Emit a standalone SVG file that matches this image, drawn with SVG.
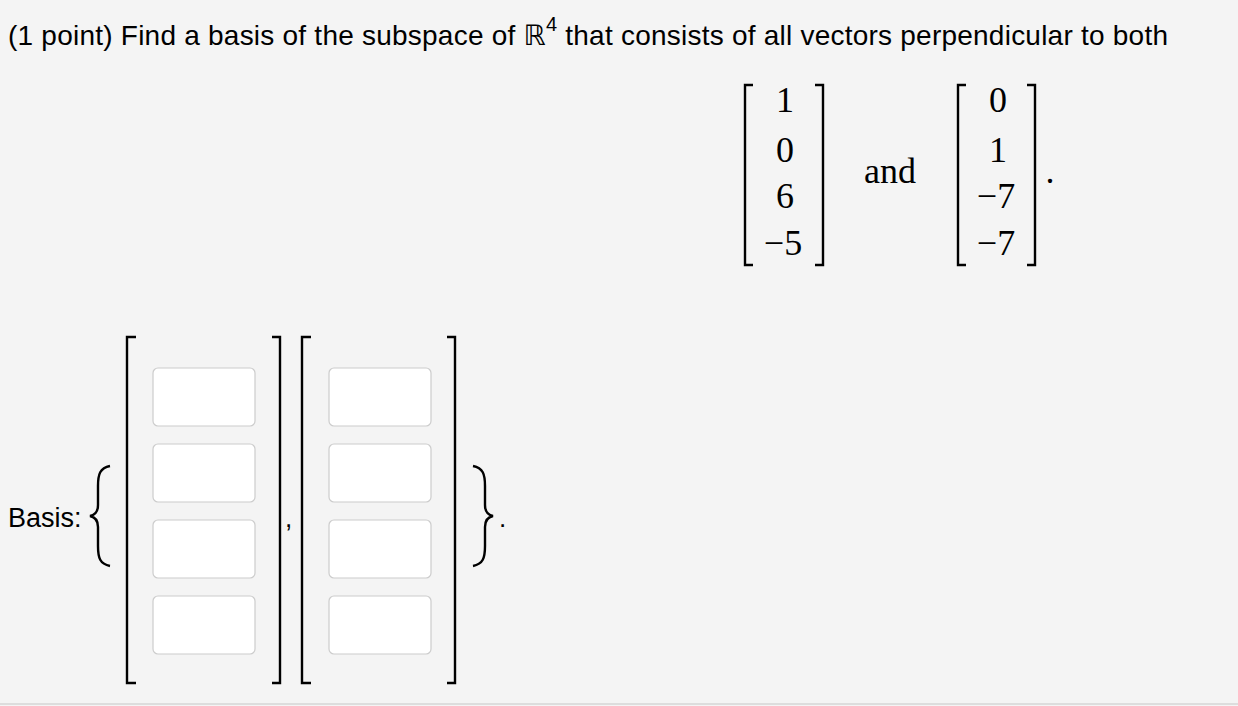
<svg xmlns="http://www.w3.org/2000/svg" width="1238" height="706" viewBox="0 0 1238 706">
<style>
.s{font-family:"Liberation Sans",Arial,sans-serif;fill:#000}
.m{font-family:"Liberation Serif","Times New Roman",serif;font-size:36px;fill:#000;text-anchor:middle}
.br{fill:none;stroke:#000;stroke-width:2.4}
.box{fill:#fff;stroke:#ccc;stroke-width:1.2}
</style>
<rect width="1238" height="706" fill="#f4f4f4"/>
<line x1="0" y1="704" x2="1238" y2="704" stroke="#ddd" stroke-width="2"/>
<text class="s" x="8" y="45" font-size="28" textLength="1160" lengthAdjust="spacing">(1 point) Find a basis of the subspace of <tspan font-family="DejaVu Sans">ℝ</tspan><tspan font-size="20" dy="-14">4</tspan><tspan dy="14"> that consists of all vectors perpendicular to both</tspan></text>
<g id="v1">
<path class="br" d="M753 85H745V265H753M815 85H823V265H815"/>
<text class="m" x="785" y="112">1</text><text class="m" x="785" y="162">0</text><text class="m" x="785" y="208">6</text><text class="m" x="783" y="255">−5</text>
</g>
<text class="m" x="890" y="183">and</text>
<g id="v2">
<path class="br" d="M966 85H958V265H966M1027 85H1035V265H1027"/>
<text class="m" x="998" y="112">0</text><text class="m" x="998" y="162">1</text><text class="m" x="996" y="208">−7</text><text class="m" x="996" y="255">−7</text>
<text class="m" x="1050" y="183">.</text>
</g>
<text class="s" x="8" y="527" font-size="27">Basis:</text>
<path class="br" stroke-width="2.6" d="M110 466C100 468 98 474 98 486V505C98 512 95 515 90 516C95 517 98 520 98 527V546C98 558 100 564 110 566"/>
<path class="br" stroke-width="2.6" d="M473 466C483 468 485 474 485 486V505C485 512 488 515 493 516C488 517 485 520 485 527V546C485 558 483 564 473 566"/>
<text class="s" x="499" y="527" font-size="26">.</text>
<text class="s" x="285" y="527" font-size="26">,</text>
<g id="b1">
<path class="br" d="M136 337H127V683H136M272 337H280V683H272"/>
<rect class="box" x="153" y="368" width="102" height="58" rx="5"/>
<rect class="box" x="153" y="444" width="102" height="58" rx="5"/>
<rect class="box" x="153" y="520" width="102" height="58" rx="5"/>
<rect class="box" x="153" y="596" width="102" height="58" rx="5"/>
</g>
<g id="b2">
<path class="br" d="M311 337H302V683H311M447 337H455V683H447"/>
<rect class="box" x="329" y="368" width="102" height="58" rx="5"/>
<rect class="box" x="329" y="444" width="102" height="58" rx="5"/>
<rect class="box" x="329" y="520" width="102" height="58" rx="5"/>
<rect class="box" x="329" y="596" width="102" height="58" rx="5"/>
</g>
</svg>
